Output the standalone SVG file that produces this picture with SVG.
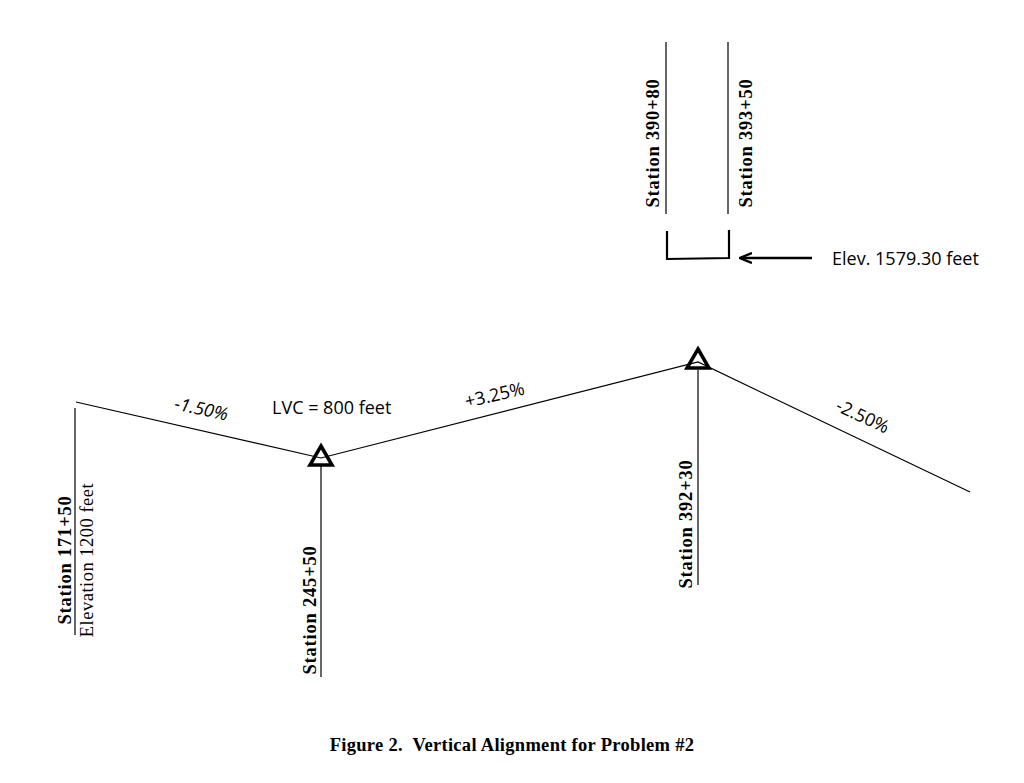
<svg xmlns="http://www.w3.org/2000/svg" width="1024" height="783" viewBox="0 0 1024 783">
<style>
.ln{stroke:#000;stroke-width:1.2;fill:none}
.tri{stroke:#000;stroke-width:3.5;fill:none;stroke-linejoin:miter}
.st{font-family:"Liberation Serif",serif;font-weight:bold;font-size:18.5px;letter-spacing:0.8px}
.el{font-family:"Liberation Serif",serif;font-size:18.5px;letter-spacing:0.5px}
.sl{font-family:"Open Sans","Liberation Sans",sans-serif;font-size:18px}
</style>
<defs><marker id="ah" markerWidth="13" markerHeight="12" refX="11" refY="6" orient="auto" markerUnits="userSpaceOnUse"><path d="M0,1 L12,6 L0,11" fill="none" stroke="#000" stroke-width="2.4"/></marker></defs>
<rect width="1024" height="783" fill="#fff"/>
<g id="connectors">
<polyline class="ln" points="76,402 321,458 698,362 970,492"/>
<line class="ln" x1="75" y1="408" x2="75" y2="635"/>
<line class="ln" x1="321" y1="466" x2="321" y2="677"/>
<line class="ln" x1="698" y1="370" x2="698" y2="585"/>
<line class="ln" x1="666" y1="42" x2="666" y2="214"/>
<line class="ln" x1="728" y1="42" x2="728" y2="214"/>
<polyline points="667,231 667,259 729,258 729,230" fill="none" stroke="#000" stroke-width="2.2"/>
<line x1="812" y1="258" x2="741" y2="258" stroke="#000" stroke-width="2.4" marker-end="url(#ah)"/>
</g>
<g id="pvi1"><polygon class="tri" points="321,446 332,465 310,465"/></g>
<g id="pvi2"><polygon class="tri" points="698,349 709,368 687,368"/></g>
<g id="labels">
<text class="st" transform="translate(71,560) rotate(-90)" text-anchor="middle">Station 171+50</text>
<text class="el" transform="translate(93,560) rotate(-90)" text-anchor="middle">Elevation 1200 feet</text>
<text class="st" transform="translate(316,610) rotate(-90)" text-anchor="middle">Station 245+50</text>
<text class="st" transform="translate(692,524) rotate(-90)" text-anchor="middle">Station 392+30</text>
<text class="st" transform="translate(659,143) rotate(-90)" text-anchor="middle">Station 390+80</text>
<text class="st" transform="translate(752,143) rotate(-90)" text-anchor="middle">Station 393+50</text>
<text class="sl" x="832" y="265">Elev. 1579.30 feet</text>
<text class="sl" x="272" y="414">LVC = 800 feet</text>
<text class="sl" font-style="italic" transform="translate(200,415) rotate(12)" text-anchor="middle">-1.50%</text>
<text class="sl" transform="translate(496,401) rotate(-13)" text-anchor="middle">+3.25%</text>
<text class="sl" transform="translate(860,422) rotate(25)" text-anchor="middle">-2.50%</text>
<text class="st" x="512" y="751" text-anchor="middle" font-size="18" style="letter-spacing:0.3px" xml:space="preserve">Figure 2.  Vertical Alignment for Problem #2</text>
</g>
</svg>
